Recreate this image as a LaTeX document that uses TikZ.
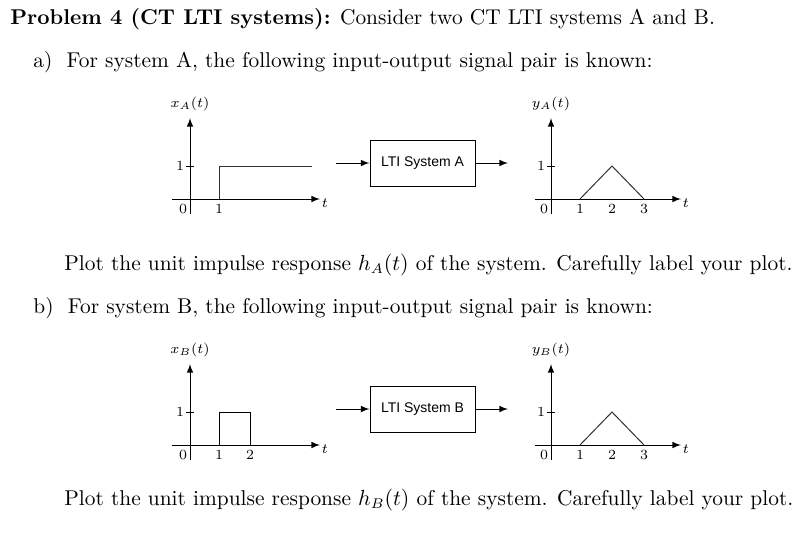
\documentclass[tikz,border=0pt]{standalone}
\usepackage{fontspec}
\newfontfamily\arial{Liberation Sans}
\begin{document}
\begin{tikzpicture}[x=0.5pt,y=-0.5pt,
  ax/.style={line width=0.5pt,-latex},
  sig/.style={line width=0.5pt,black!80},
  lbl/.style={font=\fontsize{7}{8}\selectfont,inner sep=0pt},
  txt/.style={anchor=base west,inner sep=0pt,font=\fontsize{10.7}{13}\selectfont},
  sysbox/.style={draw,line width=0.5pt,minimum width=52.5pt,minimum height=23pt,font=\arial\fontsize{7}{8}\selectfont}]
\useasboundingbox (0,0) rectangle (805,537);
\node[txt] (t1) at (10,24) {\textbf{Problem 4 (CT LTI systems):} Consider two CT LTI systems A and B.};
\node[txt] (t2) at (33,67) {a)\ \ For system A, the following input-output signal pair is known:};
\node[txt] (t3) at (64,270) {Plot the unit impulse response $h_A(t)$ of the system. Carefully label your plot.};
\node[txt] (t4) at (33,313) {b)\ \ For system B, the following input-output signal pair is known:};
\node[txt] (t5) at (64,505) {Plot the unit impulse response $h_B(t)$ of the system. Carefully label your plot.};
\foreach \yo/\s in {0/A,246/B}{
 \begin{scope}[yshift=-\yo*0.5pt]
 % left plot
 \draw[ax] (172,199) -- (320,199);
 \draw[ax] (190,214) -- (190,118);
 \draw[line width=0.5pt] (186,166) -- (194,166);
 \node[lbl] at (190,104) {$x_{\s}(t)$};
 \node[lbl] at (183,209) {0};
 \node[lbl] at (180,166) {1};
 \node[lbl] at (219,209) {1};
 \node[lbl] at (325,203) {$t$};
 % box
 \node[sysbox] (sys\s) at (422.5,163) {LTI System \s};
 \coordinate (in\s) at (336,163);
 \coordinate (out\s) at (508,163);
 \draw[ax] (in\s) -- (sys\s.west);
 \draw[ax] (sys\s.east) -- (out\s);
 % right plot
 \draw[ax] (535,199) -- (681,199);
 \draw[ax] (551,214) -- (551,118);
 \draw[line width=0.5pt] (547,166) -- (555,166);
 \node[lbl] at (551,104) {$y_{\s}(t)$};
 \node[lbl] at (544,209) {0};
 \node[lbl] at (541,166) {1};
 \node[lbl] at (580,209) {1};
 \node[lbl] at (612,209) {2};
 \node[lbl] at (644,209) {3};
 \node[lbl] at (686,203) {$t$};
 \draw[sig] (580,199) -- (612,166) -- (644,199);
 \end{scope}}
\draw[sig] (219,199) -- (219,166) -- (312,166);
\begin{scope}[yshift=-123pt]
\draw[line width=0.5pt] (219,199) -- (219,166) -- (250,166) -- (250,199);
\node[lbl] at (250,209) {2};
\end{scope}
\end{tikzpicture}
\end{document}
